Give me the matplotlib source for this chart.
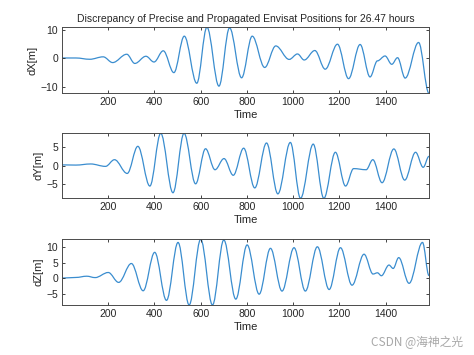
import matplotlib
matplotlib.use('Agg')
import matplotlib.pyplot as plt
from matplotlib.path import Path
from matplotlib.patches import PathPatch

# extrema of each discrepancy curve (time in minutes, metres)
t_dx = [1, 60, 120, 178, 219, 280, 315, 363, 398, 438, 484, 529, 583, 627, 679, 725,
        777, 823, 877, 925, 983, 1019, 1048, 1094, 1139, 1192, 1240, 1290, 1333, 1365,
        1398, 1427, 1452, 1485, 1543, 1588]
dx = [0.1, 0.1, -0.35, 0.5, -1.5, 1.4, -1.8, 0.7, -1.3, 2.6, -5.0, 7.7, -8.7, 10.8, -9.7, 10.6,
      -6.8, 7.7, -3.2, 4.3, -0.4, 1.5, -0.6, 2.7, -3.8, 4.9, -7.1, 4.8, -6.5, -0.9,
      0.8, -2.1, 0.2, -6.9, 5.5, -12.2]

t_dy = [1, 60, 124, 188, 227, 282, 328, 380, 427, 480, 528, 578, 621, 662, 701, 741,
        786, 834, 885, 934, 988, 1032, 1087, 1133, 1183, 1227, 1262, 1316, 1345, 1385,
        1436, 1483, 1530, 1563, 1588]
dy = [0.2, 0.15, 0.45, -0.2, 1.6, -2.1, 5.2, -5.5, 8.7, -7.3, 8.7, -4.9, 4.55, -1.1, 1.9, -2.6,
      4.7, -6.0, 6.1, -7.6, 6.25, -8.8, 5.8, -8.8, 3.6, -5.5, -0.8, -1.1, 1.6, -4.6,
      4.5, -3.9, 3.6, -0.45, 2.5]

t_dz = [1, 60, 107, 143, 200, 245, 300, 351, 401, 452, 502, 550, 600, 651, 700, 752,
        801, 853, 902, 952, 1004, 1053, 1105, 1156, 1205, 1255, 1307, 1346, 1365, 1382,
        1415, 1433, 1457, 1502, 1560, 1588]
dz = [0.0, 0.2, 0.6, 0.15, 1.8, -1.4, 4.7, -4.1, 8.3, -7.2, 11.5, -8.7, 12.5, -8.7, 12.3, -6.8,
      10.7, -5.2, 9.6, -4.2, 9.8, -4.2, 10.1, -3.7, 9.8, -2.3, 7.7, 1.3, 1.7, 0.75,
      4.2, 3.1, 6.6, -1.7, 11.5, 0.8]

x_ticks = [200, 400, 600, 800, 1000, 1200, 1400]
panels = [
    (t_dx, dx, 'dX[m]', [-10, 0, 10]),
    (t_dy, dy, 'dY[m]', [-5, 0, 5]),
    (t_dz, dz, 'dZ[m]', [-5, 0, 5, 10]),
]
boxes = [
    [0.1314, 0.7372, 0.7736, 0.186],
    [0.1314, 0.4414, 0.7736, 0.183],
    [0.1314, 0.1408, 0.7736, 0.185],
]

line_color = '#3a8dcf'
axis_color = '#4a4a4a'


def smooth_path(t, v):
    # cubic segments with flat tangents at each extremum
    verts = [(t[0], v[0])]
    codes = [Path.MOVETO]
    for i in range(len(t) - 1):
        dt = t[i + 1] - t[i]
        verts += [(t[i] + 0.36 * dt, v[i]), (t[i + 1] - 0.36 * dt, v[i + 1]), (t[i + 1], v[i + 1])]
        codes += [Path.CURVE4] * 3
    return Path(verts, codes)


plt.rcParams['font.family'] = ['Liberation Sans', 'DejaVu Sans']
fig = plt.figure(figsize=(4.74, 3.55), dpi=100)

for (t, v, label, yt), box in zip(panels, boxes):
    ax = fig.add_axes(box)
    ax.add_patch(PathPatch(smooth_path(t, v), facecolor='none', edgecolor=line_color, lw=0.9))
    ax.set_xlim(1, 1588)
    ax.set_ylim(min(v), max(v))
    ax.set_xticks(x_ticks)
    ax.set_yticks(yt)
    ax.tick_params(direction='in', length=2.5, width=0.6, top=True, right=True,
                   labelsize=7.5, colors='#262626', pad=3)
    for s in ax.spines.values():
        s.set_color(axis_color)
        s.set_linewidth(0.7)
    ax.set_xlabel('Time', fontsize=8, color='#262626', labelpad=2)
    ax.set_ylabel(label, fontsize=8, color='#262626', labelpad=2)
    if label == 'dX[m]':
        ax.set_title('Discrepancy of Precise and Propagated Envisat Positions for 26.47 hours',
                     fontsize=7.5, color='#262626', pad=4)

fig.text(0.978, 0.035, 'CSDN @海神之光', ha='right', va='center', fontsize=8.5,
         color='#a8a8a8', family=['Noto Sans CJK SC', 'DejaVu Sans'])

fig.savefig('out.png', dpi=100)
